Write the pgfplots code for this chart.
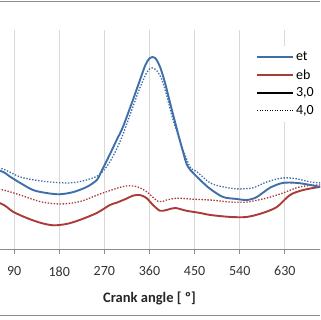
\documentclass[border=0pt]{standalone}
\usepackage{fontspec}
\setmainfont{Carlito}
\usepackage{pgfplots}
\pgfplotsset{compat=1.18}

\definecolor{etblue}{HTML}{3F6FAA}
\definecolor{ebred}{HTML}{A93B38}
\definecolor{gridgray}{HTML}{D9D9D9}
\definecolor{axisgray}{HTML}{8C8C8C}

\begin{document}
\begin{tikzpicture}
\useasboundingbox (0,0) rectangle (320pt,320pt);
\clip (0,0) rectangle (320pt,320pt);
\fill[white] (0,0) rectangle (320pt,320pt);
% chart area frame
\draw[axisgray, line width=1pt] (0,318pt) -- (320pt,318pt);
\draw[axisgray, line width=1pt] (0,4pt) -- (320pt,4pt);
\begin{axis}[
  at={(-31pt,71pt)}, anchor=south west,
  scale only axis, width=361pt, height=219pt,
  xmin=0, xmax=720, ymin=0, ymax=1.1,
  xtick={0,90,...,720}, ytick={0,0.1,...,1.1},
  xticklabels={{},90,180,270,360,450,540,630,{}},
  yticklabels={},
  grid=major,
  major grid style={gridgray, line width=0.8pt},
  axis x line*=bottom, axis y line=none,
  x axis line style={axisgray, line width=0.9pt},
  xtick pos=bottom, tick align=outside,
  major tick length=5pt,
  xtick style={axisgray, line width=0.8pt},
  ytick style={draw=none},
  xticklabel style={font=\fontsize{14}{16}\selectfont, text=black!80, yshift=-9pt},
  xlabel={\textbf{Crank angle [ º]}},
  xlabel style={font=\fontsize{14.5}{16}\selectfont, text=black!85,
    at={(axis description cs:0.5,0)}, anchor=base, yshift=-53pt},
  legend style={at={(axis description cs:0.778,0.928)}, anchor=north west,
    draw=none, fill=white, font=\fontsize{14}{16}\selectfont,
    row sep=3pt, inner xsep=6pt, inner ysep=4pt},
  legend cell align=left,
  legend image code/.code={\draw[#1] (0pt,0pt) -- (36pt,0pt);},
]
% eb, 4,0
\addplot[ebred, line width=1.3pt, dash pattern=on 1.4pt off 1.6pt, smooth, forget plot] coordinates {
(0,0.322) (62,0.300) (102,0.271) (142,0.238) (181,0.226) (221,0.238)
(261,0.276) (295,0.305) (315,0.317) (335,0.313) (354,0.288) (378,0.238)
(394,0.246) (414,0.255) (447,0.250) (481,0.246) (521,0.236) (554,0.236)
(594,0.256) (626,0.281) (660,0.312) (700,0.322) (720,0.322)};
% et, 4,0
\addplot[etblue, line width=1.3pt, dash pattern=on 1.4pt off 1.6pt, smooth, forget plot] coordinates {
(0,0.437) (62,0.407) (102,0.362) (142,0.342) (181,0.333) (208,0.333)
(235,0.347) (255,0.365) (265,0.385) (275,0.415) (285,0.455) (295,0.505)
(307,0.575) (327,0.715) (341,0.810) (355,0.889) (365,0.910) (375,0.894)
(385,0.849) (395,0.764) (407,0.648) (425,0.513) (441,0.412) (455,0.387)
(481,0.332) (507,0.312) (535,0.302) (566,0.307) (594,0.337) (626,0.357)
(654,0.352) (680,0.337) (700,0.332) (720,0.327)};
% eb, 3,0
\addplot[ebred, line width=1.9pt, smooth, forget plot] coordinates {
(0,0.266) (62,0.230) (88,0.187) (115,0.156) (142,0.132) (168,0.119)
(195,0.126) (221,0.146) (255,0.181) (281,0.221) (295,0.233) (315,0.254)
(327,0.268) (341,0.271) (354,0.256) (367,0.221) (381,0.192) (394,0.196)
(411,0.206) (434,0.192) (461,0.181) (481,0.171) (521,0.161) (554,0.161)
(586,0.181) (614,0.211) (640,0.271) (666,0.296) (700,0.312) (720,0.317)};
% et, 3,0
\addplot[etblue, line width=1.9pt, smooth, forget plot] coordinates {
(0,0.427) (62,0.393) (82,0.363) (102,0.332) (128,0.296) (155,0.281)
(181,0.275) (208,0.286) (235,0.312) (255,0.347) (265,0.395) (275,0.445)
(285,0.497) (295,0.550) (307,0.613) (327,0.749) (341,0.849) (352,0.925)
(361,0.960) (371,0.960) (381,0.915) (391,0.834) (401,0.734) (415,0.598)
(427,0.487) (437,0.412) (461,0.347) (481,0.302) (507,0.261) (535,0.251)
(554,0.246) (574,0.261) (600,0.307) (626,0.332) (654,0.332) (680,0.322)
(700,0.312) (720,0.307)};
\addlegendimage{etblue, line width=1.4pt}
\addlegendentry{et}
\addlegendimage{ebred, line width=1.4pt}
\addlegendentry{eb}
\addlegendimage{black, line width=2pt}
\addlegendentry{3,0}
\addlegendimage{black, line width=1.2pt, dash pattern=on 1.2pt off 1.3pt}
\addlegendentry{4,0}
\end{axis}
\end{tikzpicture}
\end{document}
